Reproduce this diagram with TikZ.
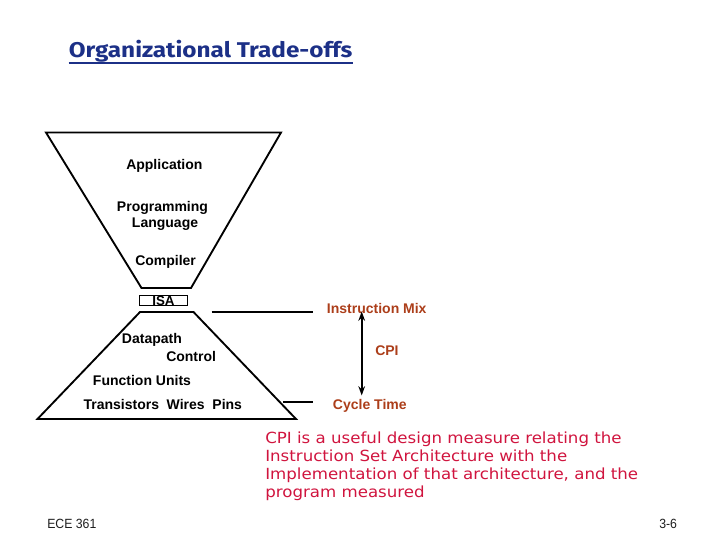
\documentclass[tikz,border=0pt]{standalone}
\usepackage{fontspec}
\setmainfont{Liberation Sans}
\newfontfamily\titlefont{Fira Sans}
\newfontfamily\notefont{DejaVu Sans}
\usetikzlibrary{arrows.meta}
\definecolor{titleblue}{RGB}{28,48,135}
\definecolor{labelbrown}{RGB}{172,62,26}
\definecolor{notered}{RGB}{208,20,62}
\definecolor{footgray}{RGB}{30,30,30}
\newcommand{\notewide}[1]{\scalebox{1.085}[1]{#1}}
\begin{document}
\begin{tikzpicture}[x=0.75pt,y=-0.75pt,
  layer/.style={font=\fontsize{10.5}{12}\selectfont\bfseries, inner sep=0pt, anchor=base west},
  metric/.style={font=\fontsize{10.5}{12}\selectfont\bfseries, text=labelbrown, inner sep=0pt, anchor=base west},
  funnel/.style={line width=1.4pt, line join=miter},
  lead/.style={line width=1.4pt},
  note/.style={font=\notefont\fontsize{11.5}{13.5}\selectfont, text=notered, inner sep=0pt, anchor=base west},
  foot/.style={font=\fontsize{10}{12}\selectfont, text=footgray, inner sep=0pt, anchor=base west},
  titlestyle/.style={font=\titlefont\fontsize{16}{18}\selectfont\bfseries, text=titleblue, inner sep=0pt, anchor=base west}
]
\useasboundingbox (0,0) rectangle (720,540);

% title
\node[titlestyle] (title) at (68.5,57.3) {\scalebox{1.14}[1]{Organizational Trade-offs}};
\draw[titleblue, line width=1.5pt] ([yshift=-4.2pt]title.base west) -- ([yshift=-4.2pt]title.base east);

% funnels
\draw[funnel] (46,132.5) -- (281,132.5) -- (191,288) -- (141.5,288) -- cycle;
\draw[funnel] (140,312) -- (193.5,312) -- (296,419) -- (37.5,419) -- cycle;

% layer labels
\node[layer] (app) at (126,169.3) {Application};
\node[layer] (prog) at (116.7,211.7) {Programming};
\node[layer] (lang) at (131.7,227.3) {Language};
\node[layer] (comp) at (135,265) {Compiler};
\node[draw, line width=1.2pt, minimum width=36pt, minimum height=7.5pt, inner sep=0pt,
      font=\fontsize{10}{11}\selectfont\bfseries] (isa) at (163.5,300.6) {ISA};
\node[layer] (dp) at (121.7,343.3) {Datapath};
\node[layer] (ctl) at (166,361.7) {Control};
\node[layer] (fu) at (92.7,385) {Function Units};
\node[layer] (twp) at (83.3,409.3) {Transistors\hspace{0.55em}Wires\hspace{0.55em}Pins};

% leaders
\coordinate (l1a) at (211.7,312);
\coordinate (l1b) at (313.3,312);
\coordinate (l2a) at (283.3,402);
\coordinate (l2b) at (313.3,402);
\draw[lead] (l1a) -- (l1b);
\draw[lead] (l2a) -- (l2b);

% metric labels
\node[metric] (mix) at (326.7,313.3) {Instruction Mix};
\node[metric] (cpi) at (375,355) {CPI};
\node[metric] (cyc) at (332.7,409.3) {Cycle Time};

\coordinate (atop) at (361.7,311.5);
\coordinate (abot) at (361.7,395.5);
\draw[line width=1.3pt, {Stealth[length=7pt,width=5pt]}-{Stealth[length=7pt,width=5pt]}] (atop) -- (abot);

% note
\node[note] (n1) at (265,443.3) {\notewide{CPI is a useful design measure relating the}};
\node[note] (n2) at (265,461.3) {\notewide{Instruction Set Architecture with the}};
\node[note] (n3) at (265,479.3) {\notewide{Implementation of that architecture, and the}};
\node[note] (n4) at (265,497.3) {\notewide{program measured}};

% footer
\node[foot] (ece) at (47,528.5) {\scalebox{0.92}[1]{ECE 361}};
\node[foot] (pg) at (659,528.5) {\scalebox{0.92}[1]{3-6}};
\end{tikzpicture}
\end{document}
